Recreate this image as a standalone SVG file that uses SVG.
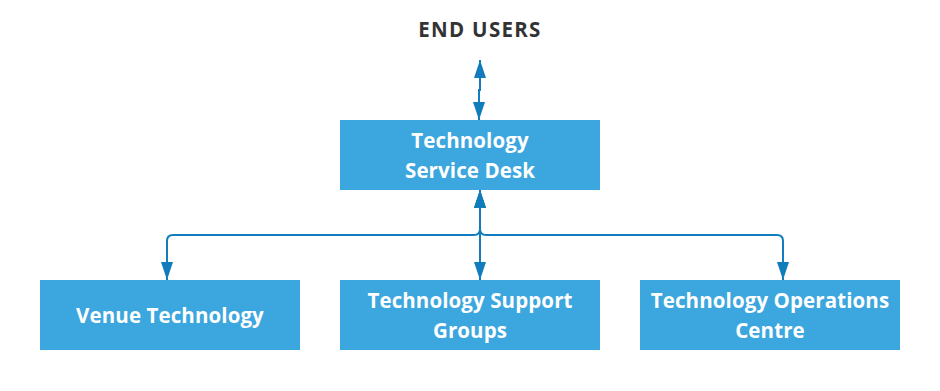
<svg xmlns="http://www.w3.org/2000/svg" width="940" height="391" viewBox="0 0 940 391">
<style>
.box{fill:#3ca6de}
.lbl{font-family:"Open Sans","Liberation Sans",sans-serif;font-weight:700;font-size:20.5px;letter-spacing:0.1px;fill:#ffffff;text-anchor:middle}
.title{font-family:"Open Sans","Liberation Sans",sans-serif;font-weight:700;font-size:20.5px;letter-spacing:1.3px;fill:#333333;text-anchor:middle}
.con{fill:none;stroke:#137cbd;stroke-width:2}
</style>
<defs>
<marker id="arr" viewBox="0 0 18 12" refX="18" refY="6" markerWidth="18" markerHeight="12" markerUnits="userSpaceOnUse" orient="auto-start-reverse">
<path d="M0,0 L18,6 L0,12 Z" fill="#137cbd"/>
</marker>
</defs>
<rect width="940" height="391" fill="#ffffff"/>
<g id="end-users"><text class="title" x="480" y="37">END USERS</text></g>
<g id="service-desk">
<rect class="box" x="340" y="120" width="260" height="70"/>
<text class="lbl" x="470" y="148">Technology</text>
<text class="lbl" x="470" y="178">Service Desk</text>
</g>
<g id="venue-technology">
<rect class="box" x="40" y="280" width="260" height="70"/>
<text class="lbl" x="170" y="323">Venue Technology</text>
</g>
<g id="support-groups">
<rect class="box" x="340" y="280" width="260" height="70"/>
<text class="lbl" x="470" y="308">Technology Support</text>
<text class="lbl" x="470" y="338">Groups</text>
</g>
<g id="operations-centre">
<rect class="box" x="640" y="280" width="260" height="70"/>
<text class="lbl" x="770" y="308">Technology Operations</text>
<text class="lbl" x="770" y="338">Centre</text>
</g>
<g id="connectors">
<path class="con" d="M480,60 L480,90 L479,90 L479,120" marker-start="url(#arr)" marker-end="url(#arr)"/>
<path class="con" d="M480,190 L480,229 Q480,235 474,235 L173,235 Q167,235 167,241 L167,280" marker-start="url(#arr)" marker-end="url(#arr)"/>
<path class="con" d="M480,190 L480,280" marker-start="url(#arr)" marker-end="url(#arr)"/>
<path class="con" d="M480,190 L480,229 Q480,235 486,235 L777,235 Q783,235 783,241 L783,280" marker-start="url(#arr)" marker-end="url(#arr)"/>
</g>
</svg>
